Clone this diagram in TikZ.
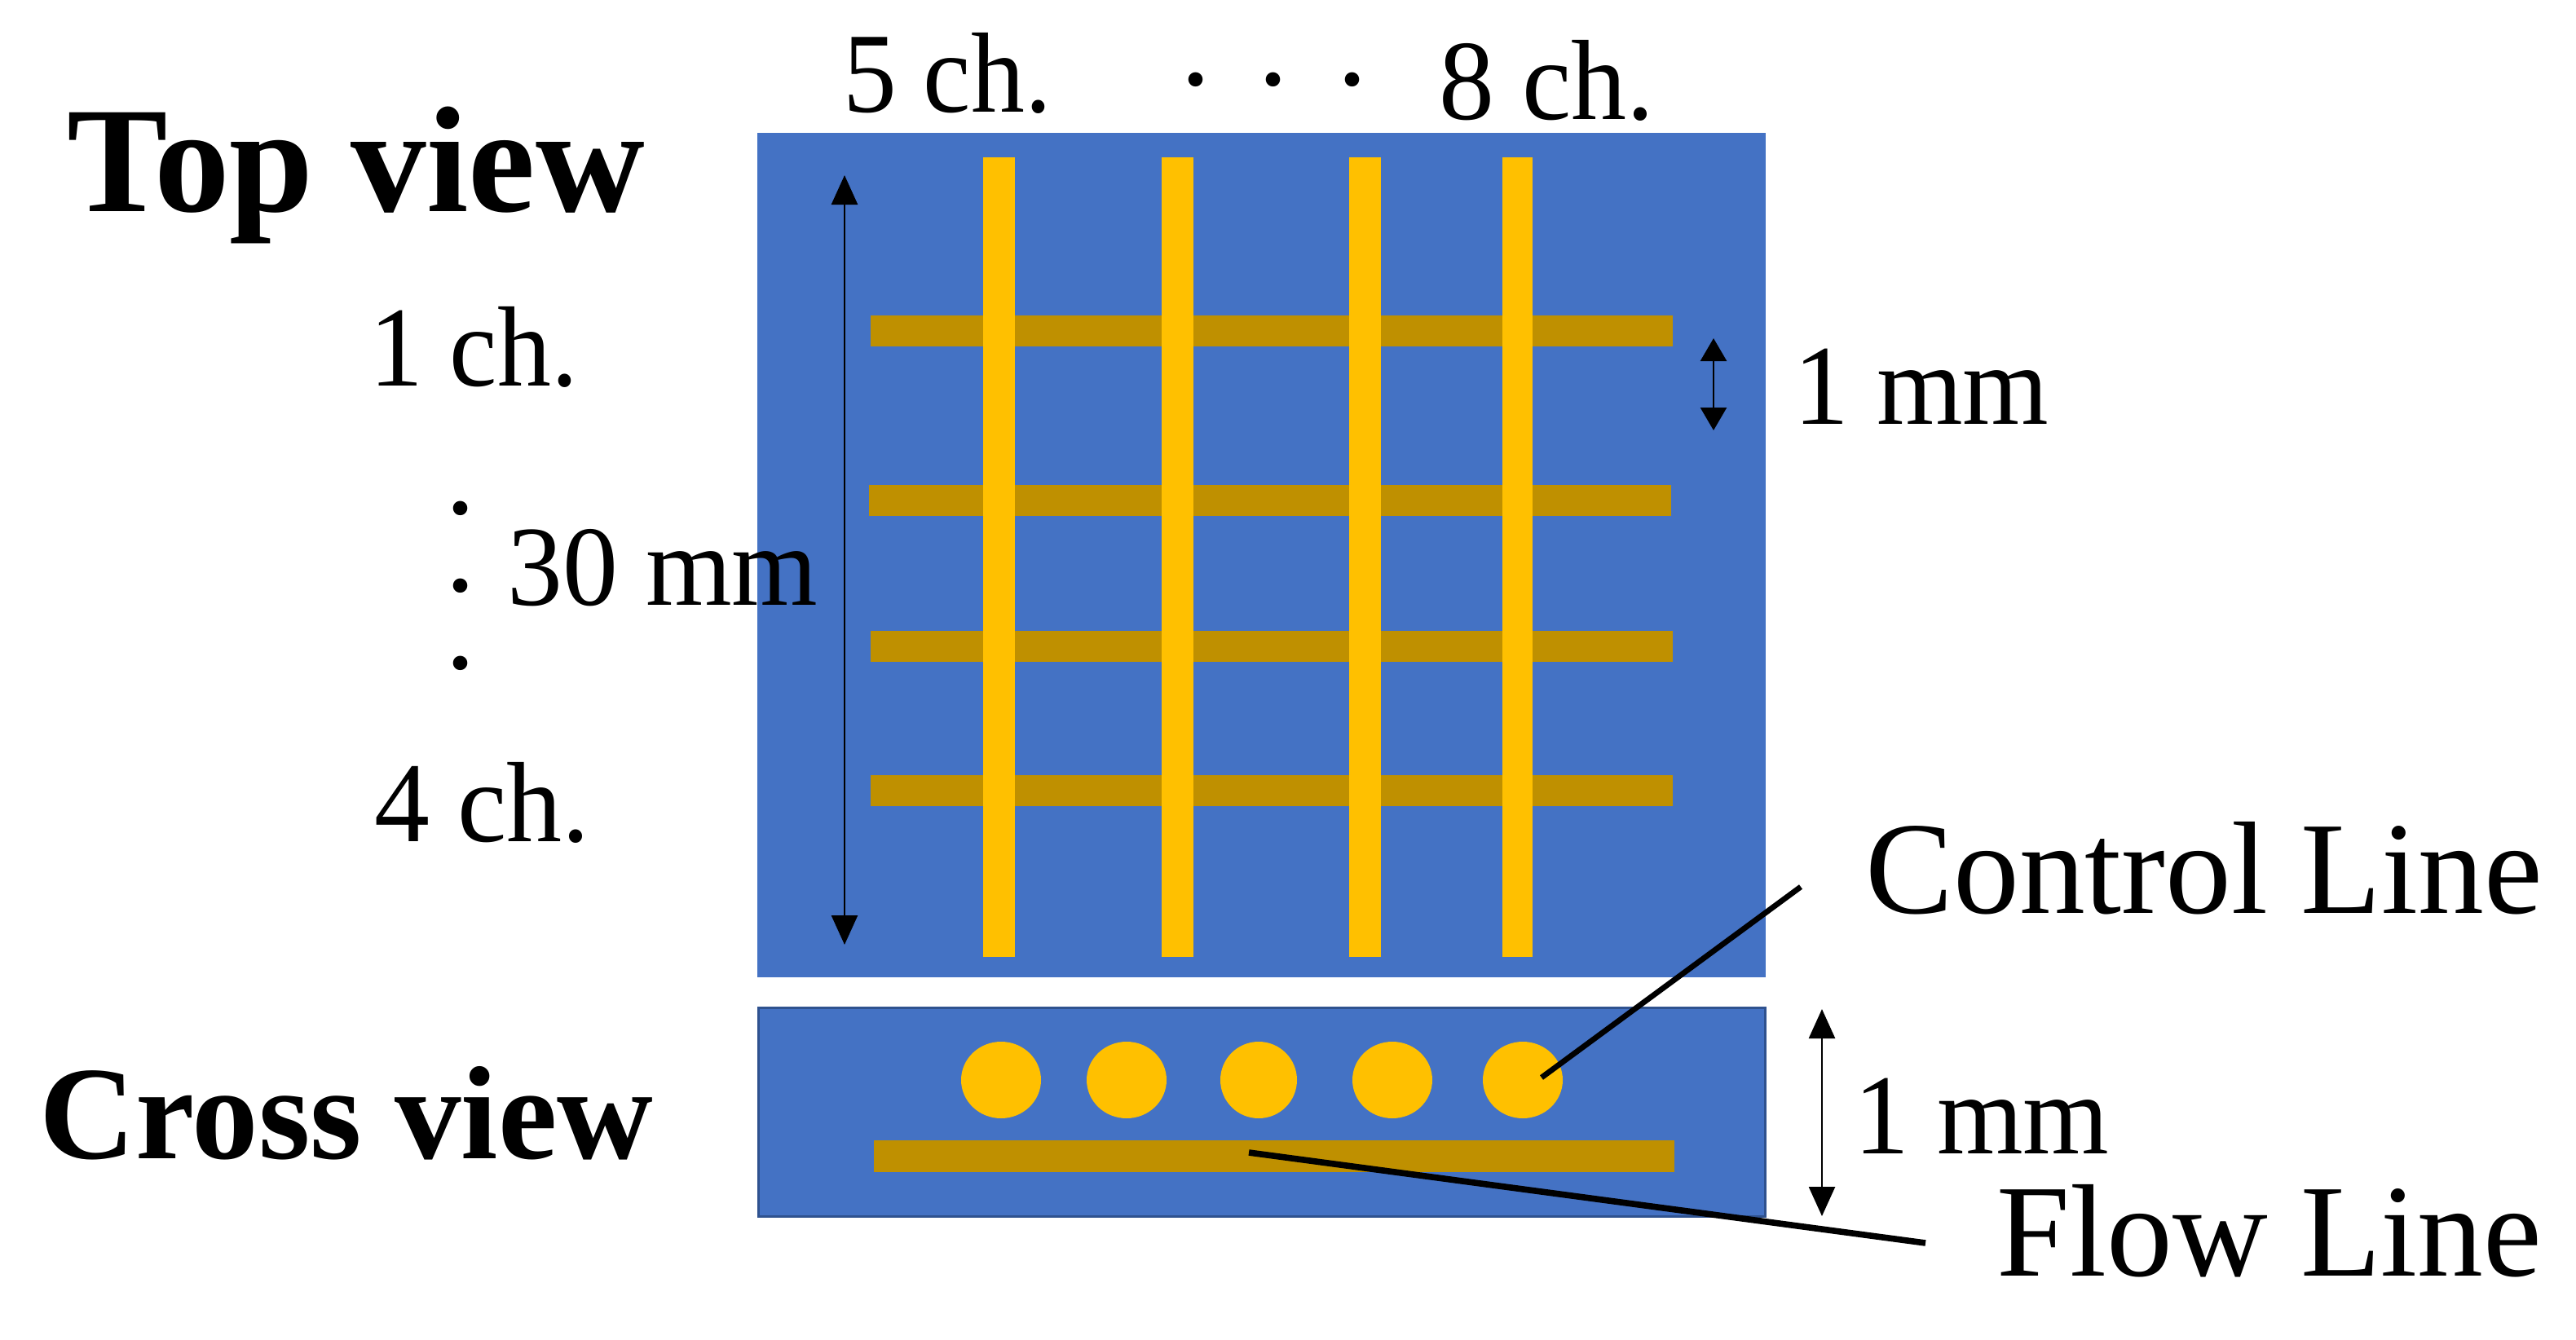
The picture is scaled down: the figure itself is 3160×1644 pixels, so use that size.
\documentclass[tikz,border=0pt]{standalone}
\usepackage{fontspec}
\usetikzlibrary{arrows.meta}
\setmainfont{Liberation Serif}
\newfontfamily\condserif[FakeStretch=0.97]{Liberation Serif}
\newfontfamily\narrowserif[FakeStretch=0.94]{Liberation Serif}
\definecolor{chipblue}{HTML}{4472C4}
\definecolor{chipedge}{HTML}{2F528F}
\definecolor{ctrlgold}{HTML}{FFC000}
\definecolor{flowgold}{HTML}{BF9000}
\tikzset{
  x=0.5pt,y=-0.5pt,
  bigbold/.style={anchor=base west,inner sep=0pt,font=\fontsize{92.6}{100}\selectfont\bfseries},
  crossbold/.style={anchor=base west,inner sep=0pt,font=\fontsize{81.5}{90}\selectfont\bfseries},
  lbl/.style={anchor=base west,inner sep=0pt,font=\fontsize{70}{80}\selectfont\condserif},
  narrowlbl/.style={anchor=base west,inner sep=0pt,font=\fontsize{70}{80}\selectfont\narrowserif},
  biglbl/.style={anchor=base west,inner sep=0pt,font=\fontsize{80.8}{90}\selectfont},
  dotlbl/.style={anchor=base,inner sep=0pt,font=\fontsize{74}{90}\selectfont},
  chip/.style={fill=chipblue},
  ctrlbar/.style={fill=ctrlgold},
  flowbar/.style={fill=flowgold},
  hole/.style={fill=ctrlgold},
  ctrlleader/.style={draw=black,line width=3.4pt},
  flowleader/.style={draw=black,line width=3.8pt},
  dim/.style={draw=black,line width=1.3pt,{Triangle[width=16pt,length=18pt]}-{Triangle[width=16pt,length=18pt]}},
  dimsmall/.style={draw=black,line width=1.3pt,{Triangle[width=16pt,length=14pt]}-{Triangle[width=16pt,length=14pt]}},
}
\begin{document}
\begin{tikzpicture}
\useasboundingbox[fill=white] (0,0) rectangle (3160,1644);
% top view chip
\fill[chip] (929,163) rectangle (2166,1199);
\fill[flowbar] (1068,387) rectangle (2052,425);
\fill[flowbar] (1066,595) rectangle (2050,633);
\fill[flowbar] (1068,774) rectangle (2052,812);
\fill[flowbar] (1068,951) rectangle (2052,989);
\fill[ctrlbar] (1206,193) rectangle (1245,1174);
\fill[ctrlbar] (1425,193) rectangle (1464,1174);
\fill[ctrlbar] (1655,193) rectangle (1694,1174);
\fill[ctrlbar] (1843,193) rectangle (1880,1174);
% cross view chip
\draw[chip,draw=chipedge,line width=1.5pt] (930,1236) rectangle (2165,1492);
\fill[hole] (1228,1325) ellipse [x radius=49,y radius=47];
\fill[hole] (1382,1325) ellipse [x radius=49,y radius=47];
\fill[hole] (1544,1325) ellipse [x radius=47,y radius=47];
\fill[hole] (1708,1325) ellipse [x radius=49,y radius=47];
\fill[hole] (1868,1325) ellipse [x radius=49,y radius=47];
\fill[flowbar] (1072,1399) rectangle (2054,1438);
% anchors of connectors
\coordinate (ctrlA) at (2209,1088);
\coordinate (ctrlB) at (1891,1322);
\coordinate (flowA) at (1532,1414);
\coordinate (flowB) at (2362,1525);
\coordinate (dimLongT) at (1036,215);
\coordinate (dimLongB) at (1036,1159);
\coordinate (dimSmallT) at (2102,415);
\coordinate (dimSmallB) at (2102,528);
\coordinate (dimCrossT) at (2235,1238);
\coordinate (dimCrossB) at (2235,1492);
\draw[dim] (dimLongT) -- (dimLongB);
\draw[dimsmall] (dimSmallT) -- (dimSmallB);
\draw[dim] (dimCrossT) -- (dimCrossB);
\draw[ctrlleader] (ctrlA) -- (ctrlB);
\draw[flowleader] (flowA) -- (flowB);
% labels
\node[bigbold] (topview) at (82,259) {Top view};
\node[crossbold] (crossview) at (48,1421) {Cross view};
\node[narrowlbl] (ch5) at (1034,137) {5 ch.};
\node[lbl] (ch8) at (1765,146) {8 ch.};
\node[narrowlbl] (ch1) at (453,473) {1 ch.};
\node[lbl] (ch4) at (459,1032) {4 ch.};
\node[lbl] (mmlong) at (622,742) {30 mm};
\node[lbl] (mmsmall) at (2200,520) {1 mm};
\node[lbl] (mmcross) at (2274,1415) {1 mm};
\node[biglbl] (ctrl) at (2288,1120) {Control Line};
\node[biglbl] (flow) at (2449,1565) {Flow Line};
\node[dotlbl] (da) at (1467,104) {.};
\node[dotlbl] (db) at (1562,104) {.};
\node[dotlbl] (dc) at (1659,104) {.};
\node[dotlbl] (dd) at (565,630) {.};
\node[dotlbl] (de) at (565,725) {.};
\node[dotlbl] (df) at (565,820) {.};
\end{tikzpicture}
\end{document}
